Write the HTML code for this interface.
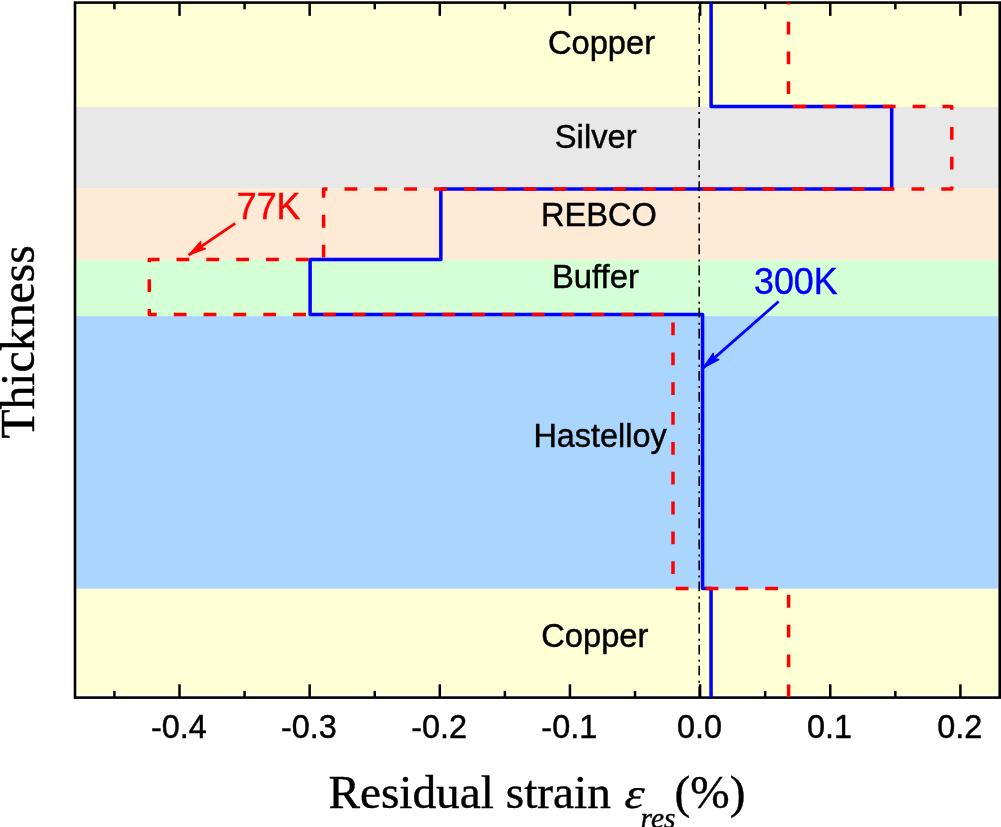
<!DOCTYPE html>
<html><head><meta charset="utf-8"><title>Residual strain</title>
<style>
html,body{margin:0;padding:0;background:#fff;}
svg{display:block;}
text{font-family:"Liberation Sans",sans-serif;}
.serif{font-family:"Liberation Serif",serif;}
.lab{stroke:#000;stroke-width:0.45px;}
.serif{stroke:#000;stroke-width:0.4px;}
</style></head><body>
<svg width="1001" height="827" viewBox="0 0 1001 827">
<rect x="0" y="0" width="1001" height="827" fill="#fff"/>
<rect x="75.0" y="2.6" width="922.9" height="104.30" fill="#FFFFD5"/>
<rect x="75.0" y="106.9" width="922.9" height="81.60" fill="#E8E8E8"/>
<rect x="75.0" y="188.5" width="922.9" height="71.10" fill="#FFEAD5"/>
<rect x="75.0" y="259.6" width="922.9" height="56.50" fill="#D5FFD5"/>
<rect x="75.0" y="316.1" width="922.9" height="272.70" fill="#AAD5FF"/>
<rect x="75.0" y="588.8" width="922.9" height="105.80" fill="#FFFFD5"/>
<text class="lab" transform="translate(601.5,54.1) scale(1,1.025)" font-size="32.7" text-anchor="middle" fill="#000" >Copper</text>
<text class="lab" transform="translate(595.7,147.7) scale(1,1.03)" font-size="32.7" text-anchor="middle" fill="#000" >Silver</text>
<text class="lab" transform="translate(598.9,225.7) scale(1,1.035)" font-size="32.6" text-anchor="middle" fill="#000" >REBCO</text>
<text class="lab" transform="translate(595.4,288.4) scale(1,1.03)" font-size="32.8" text-anchor="middle" fill="#000" >Buffer</text>
<text class="lab" transform="translate(600.0,446.7) scale(1,1.03)" font-size="32.4" text-anchor="middle" fill="#000" >Hastelloy</text>
<text class="lab" transform="translate(594.8,647.1) scale(1,1.025)" font-size="32.7" text-anchor="middle" fill="#000" >Copper</text>
<clipPath id="cp"><rect x="75.0" y="2.6" width="924.7" height="695.0"/></clipPath>
<rect x="75.0" y="2.6" width="924.7" height="695.0" fill="none" stroke="#000" stroke-width="2.6"/>
<line x1="114.42" y1="697.6" x2="114.42" y2="690.9" stroke="#000" stroke-width="2.5"/>
<line x1="114.42" y1="2.6" x2="114.42" y2="9.3" stroke="#000" stroke-width="2.5"/>
<line x1="179.50" y1="697.6" x2="179.50" y2="684.3000000000001" stroke="#000" stroke-width="2.5"/>
<line x1="179.50" y1="2.6" x2="179.50" y2="15.9" stroke="#000" stroke-width="2.5"/>
<text class="lab" transform="translate(178.8,738.1) scale(1,1.03)" font-size="32.4" text-anchor="middle" fill="#000" ><tspan dy="1.3">-</tspan><tspan dy="-1.3">0.4</tspan></text>
<line x1="244.57" y1="697.6" x2="244.57" y2="690.9" stroke="#000" stroke-width="2.5"/>
<line x1="244.57" y1="2.6" x2="244.57" y2="9.3" stroke="#000" stroke-width="2.5"/>
<line x1="309.65" y1="697.6" x2="309.65" y2="684.3000000000001" stroke="#000" stroke-width="2.5"/>
<line x1="309.65" y1="2.6" x2="309.65" y2="15.9" stroke="#000" stroke-width="2.5"/>
<text class="lab" transform="translate(308.95,738.1) scale(1,1.03)" font-size="32.4" text-anchor="middle" fill="#000" ><tspan dy="1.3">-</tspan><tspan dy="-1.3">0.3</tspan></text>
<line x1="374.73" y1="697.6" x2="374.73" y2="690.9" stroke="#000" stroke-width="2.5"/>
<line x1="374.73" y1="2.6" x2="374.73" y2="9.3" stroke="#000" stroke-width="2.5"/>
<line x1="439.80" y1="697.6" x2="439.80" y2="684.3000000000001" stroke="#000" stroke-width="2.5"/>
<line x1="439.80" y1="2.6" x2="439.80" y2="15.9" stroke="#000" stroke-width="2.5"/>
<text class="lab" transform="translate(439.1,738.1) scale(1,1.03)" font-size="32.4" text-anchor="middle" fill="#000" ><tspan dy="1.3">-</tspan><tspan dy="-1.3">0.2</tspan></text>
<line x1="504.88" y1="697.6" x2="504.88" y2="690.9" stroke="#000" stroke-width="2.5"/>
<line x1="504.88" y1="2.6" x2="504.88" y2="9.3" stroke="#000" stroke-width="2.5"/>
<line x1="569.95" y1="697.6" x2="569.95" y2="684.3000000000001" stroke="#000" stroke-width="2.5"/>
<line x1="569.95" y1="2.6" x2="569.95" y2="15.9" stroke="#000" stroke-width="2.5"/>
<text class="lab" transform="translate(569.25,738.1) scale(1,1.03)" font-size="32.4" text-anchor="middle" fill="#000" ><tspan dy="1.3">-</tspan><tspan dy="-1.3">0.1</tspan></text>
<line x1="635.02" y1="697.6" x2="635.02" y2="690.9" stroke="#000" stroke-width="2.5"/>
<line x1="635.02" y1="2.6" x2="635.02" y2="9.3" stroke="#000" stroke-width="2.5"/>
<line x1="700.10" y1="697.6" x2="700.10" y2="684.3000000000001" stroke="#000" stroke-width="2.5"/>
<line x1="700.10" y1="2.6" x2="700.10" y2="15.9" stroke="#000" stroke-width="2.5"/>
<text class="lab" transform="translate(699.4,738.1) scale(1,1.03)" font-size="32.4" text-anchor="middle" fill="#000" >0.0</text>
<line x1="765.18" y1="697.6" x2="765.18" y2="690.9" stroke="#000" stroke-width="2.5"/>
<line x1="765.18" y1="2.6" x2="765.18" y2="9.3" stroke="#000" stroke-width="2.5"/>
<line x1="830.25" y1="697.6" x2="830.25" y2="684.3000000000001" stroke="#000" stroke-width="2.5"/>
<line x1="830.25" y1="2.6" x2="830.25" y2="15.9" stroke="#000" stroke-width="2.5"/>
<text class="lab" transform="translate(829.55,738.1) scale(1,1.03)" font-size="32.4" text-anchor="middle" fill="#000" >0.1</text>
<line x1="895.33" y1="697.6" x2="895.33" y2="690.9" stroke="#000" stroke-width="2.5"/>
<line x1="895.33" y1="2.6" x2="895.33" y2="9.3" stroke="#000" stroke-width="2.5"/>
<line x1="960.40" y1="697.6" x2="960.40" y2="684.3000000000001" stroke="#000" stroke-width="2.5"/>
<line x1="960.40" y1="2.6" x2="960.40" y2="15.9" stroke="#000" stroke-width="2.5"/>
<text class="lab" transform="translate(959.7,738.1) scale(1,1.03)" font-size="32.4" text-anchor="middle" fill="#000" >0.2</text>
<path d="M711.1,2.6 V106.4 H891.7 V188.9 H440.85 V259.6 H310.1 V314.5 H702.6 V588.4 H711.05 V697.6" fill="none" stroke="#0000FF" stroke-width="3.5" stroke-linejoin="round"/>
<path d="M788.5,-8.2 V106.4 H951.8 V188.9 H323.6 V259.6 H149.3 V314.5 H673.0 V588.4 H788.6 V697.6" fill="none" stroke="#FF0000" stroke-width="3.5" stroke-linejoin="round" stroke-dasharray="12.8 17.04" clip-path="url(#cp)"/>
<line x1="699.2" y1="2.6" x2="699.2" y2="697.6" stroke="#000" stroke-width="1.6" stroke-dasharray="9.8 5.2 2 4.063" stroke-dashoffset="-10.25"/>
<text class="" transform="translate(236.8,219.3) scale(1,1.035)" font-size="35.8" text-anchor="start" fill="#FF0000" stroke="#FF0000" stroke-width="0.4">77K</text>
<text class="" transform="translate(754.0,293.6) scale(1,1.035)" font-size="35.8" text-anchor="start" fill="#0000FF" stroke="#0000FF" stroke-width="0.4">300K</text>
<defs>
<marker id="ar" markerUnits="userSpaceOnUse" markerWidth="26" markerHeight="16" refX="20" refY="8" orient="auto"><path d="M19,8 L2.5,3.9 L6,8 L2.5,12.1 Z" fill="#FF0000" stroke="#FF0000" stroke-width="1.6" stroke-linejoin="round"/></marker>
<marker id="ab" markerUnits="userSpaceOnUse" markerWidth="26" markerHeight="16" refX="20" refY="8" orient="auto"><path d="M19,8 L2.5,3.9 L6,8 L2.5,12.1 Z" fill="#0000FF" stroke="#0000FF" stroke-width="1.6" stroke-linejoin="round"/></marker>
</defs>
<line x1="235.2" y1="223.4" x2="188.5" y2="255.1" stroke="#FF0000" stroke-width="2.8" marker-end="url(#ar)"/>
<line x1="778.6" y1="301.5" x2="702.8" y2="368.1" stroke="#0000FF" stroke-width="2.8" marker-end="url(#ab)"/>
<text class="serif" x="328.4" y="807.6" font-size="47.3" fill="#000">Residual strain</text>
<text class="serif" transform="translate(623.9,807.7) skewX(-4) scale(1.12,0.96)" font-style="italic" font-size="44" fill="#000" stroke="#000" stroke-width="0.5">ε</text>
<text class="serif" x="640.5" y="828.3" font-style="italic" font-size="29.5" fill="#000">res</text>
<text class="serif" x="674.6" y="807.6" font-size="47.3" fill="#000">(%)</text>
<text class="serif" transform="translate(33.6,438.6) rotate(-90)" font-size="47.7" fill="#000">Thickness</text>
</svg></body></html>
